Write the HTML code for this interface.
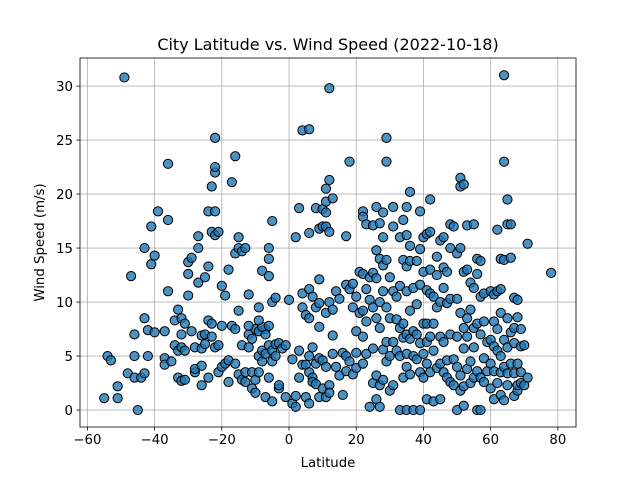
<!DOCTYPE html>
<html><head><meta charset="utf-8"><style>
body{margin:0;background:#fff;}
svg text{font-family:"DejaVu Sans","Liberation Sans",sans-serif;fill:#000;}
</style></head><body>
<svg id="chart" width="640" height="480" viewBox="0 0 640 480" xmlns="http://www.w3.org/2000/svg">
<rect width="640" height="480" fill="#fff"/>
<text x="328" y="50" font-size="16" text-anchor="middle">City Latitude vs. Wind Speed (2022-10-18)</text>
<text x="328" y="467" font-size="13.3" text-anchor="middle">Latitude</text>
<text x="0" y="0" font-size="13.3" text-anchor="middle" transform="translate(44,242.5) rotate(-90)">Wind Speed (m/s)</text>
<g id="grid"></g><g id="pts"></g><g id="axes"></g>
</svg>
<script>
const xTicks=[-60,-40,-20,0,20,40,60,80];
const yTicks=[0,5,10,15,20,25,30];
const lats=[-55,-54,-53,-51,-51,-49,-48,-47,-46,-46,-46,-45,-44,-43,-43,-43,-42,-42,-41,-41,-40,-40,-39,-37,-37,-37,-36,-36,-36,-35,-34,-34,-33,-33,-33,-32,-32,-32,-32,-31,-31,-31,-30,-30,-30,-29,-29,-28,-28,-28,-27,-27,-27,-26,-26,-26,-26,-25,-25,-25,-24,-24,-24,-24,-23,-23,-23,-23,-22,-22,-22,-22,-22,-22,-21,-21,-21,-20,-20,-20,-19,-19,-18,-18,-18,-17,-17,-16,-16,-16,-16,-15,-15,-15,-15,-14,-14,-14,-13,-13,-13,-12,-12,-12,-11,-11,-11,-10,-10,-10,-9,-9,-9,-9,-8,-8,-8,-7,-7,-7,-6,-6,-6,-6,-6,-5,-5,-5,-5,-5,-4,-4,-4,-3,-3,-3,-2,-1,-1,-7,-8,-6,-9,-12,
0,1,1,2,2,2,3,3,3,4,4,4,4,5,5,5,6,6,6,6,6,6,6,7,7,7,7,8,8,8,8,9,9,9,9,9,9,10,10,10,10,11,11,11,11,11,11,11,12,12,12,12,12,12,13,13,13,13,14,14,15,15,16,16,17,17,17,17,18,18,18,19,19,19,20,20,20,20,21,21,22,22,22,22,22,22,23,23,23,23,24,24,24,25,25,25,25,25,26,26,26,26,26,26,27,27,27,27,27,27,28,28,28,28,28,28,29,29,29,29,29,29,30,30,30,30,31,31,31,31,31,32,32,32,33,33,33,33,33,34,34,34,34,34,35,35,35,35,35,35,35,35,36,36,36,36,36,36,37,37,37,37,38,38,38,38,39,39,39,39,39,39,
40,40,40,40,40,41,41,41,41,41,41,42,42,42,42,42,42,43,43,43,43,44,44,44,44,45,45,45,45,45,46,46,46,46,46,47,47,47,47,48,48,48,48,48,49,49,49,50,50,50,50,50,51,51,51,51,51,51,52,52,52,52,52,52,53,53,53,53,53,54,54,54,54,55,55,55,55,55,56,56,56,56,56,57,57,57,57,57,58,58,58,58,59,59,60,60,60,60,61,61,61,61,61,62,62,62,62,62,63,63,63,63,63,63,64,64,64,64,64,64,65,65,65,65,65,65,66,66,66,66,67,67,67,67,67,68,68,68,68,68,69,69,69,69,70,70,71,71,78];
const winds=[1.1,5,4.6,2.2,1.1,30.8,3.4,12.4,7,5,3,0,3,3.4,8.5,15,7.4,5,13.5,17,14.3,7.2,18.4,7.3,4.8,4.2,22.8,17.6,11,4.5,8.3,6,9.3,5.5,3,8.5,7,5.8,2.7,8,5.5,2.8,12.6,10.6,13.7,14.1,7.3,5.8,3.5,3.8,15,16.1,11.8,6.9,5.7,2.3,4.1,12.3,7,6.1,18.4,13.3,8.3,3,20.7,16.5,6.8,8,22,22.5,25.2,18.4,16.2,5.8,16.5,6,3.5,4,11.5,7.8,10.6,4.3,13,4.6,2.6,21.1,7.8,23.5,14.5,7.5,4.3,16,15,9.2,3.3,14.7,6,2.8,15,3.5,2.6,5.8,10.7,7,6.6,3.5,2,7.5,2.8,1.6,9.5,7.3,5,3.5,12.9,4.5,5.5,7.5,5.2,1.2,15,14,12.4,6,3,17.5,10,5.5,4.5,0.8,10.4,6.1,5,6.2,2,2.3,5.7,6,1.2,7,7.7,7.8,8.3,7.8,
10.2,4.7,0.6,16,1.3,0.3,18.7,5.5,3,25.9,10.8,9.5,4.2,8.8,4.2,1.2,26,16.4,11.2,8.5,5,3.5,0.6,10.5,5.8,3,2.6,18.7,9.5,4.3,2.4,16.8,12.1,9.9,7.7,4.8,1.2,18.6,17,4.6,2,20.5,19.3,18.3,17,9,4,1.2,29.8,21.3,16.5,10,2.3,1.6,19.6,9.3,6.9,5.2,11,4,10.3,3.2,5.3,1.4,16.1,11.6,5,3.6,23,11.2,4.5,11.7,9.5,3.3,10.5,7.3,5.3,3.9,9,12.8,18.4,17.9,12.6,9.2,6.8,4.3,17.2,11.2,8.2,5.2,12.3,10.2,0.3,17.1,12.7,9.5,5.7,2.5,18.8,14.8,12.2,8.5,3.2,1,17.3,14,10,7.6,2.3,0.3,18.3,16,13.4,11,5.6,2.8,23,25.2,13.9,9.5,6.3,4.5,12.3,8.5,5,1.8,18.8,17,11,6.3,2.3,10.5,8.4,5.5,16,11.5,7.6,5,0,17.6,13.9,8,6.7,3,18.8,16.2,13.3,11,7,5.2,4,0,20.2,15.2,13.8,9.2,6.6,3.3,11.3,7.3,5,0,13.8,9.8,7,4.7,18.4,14.9,11.6,6.2,3.5,0,
16,12.8,8,5.2,3,16.3,11.1,8,6.3,4.3,1,19.5,16.5,13,10.8,6.8,3.5,10.5,8,5.5,0.8,14.2,12.5,9.5,3.9,15.7,10,6.8,4.3,1,16,13.2,11.3,6.3,3.5,12.8,9.9,4.6,3,17.2,15,10.3,7,2.6,17,4.7,2.3,14.5,10.3,6.8,4,0,21.5,20.7,15,9,3.2,1.8,20.9,12.8,7.6,5.7,2.2,0.4,17.1,13,8.5,6.8,3.8,11.8,9.3,4.5,2.5,17.2,11.3,7.6,5.8,3,14,12.6,8,3.6,0,13.8,10.5,7,3,0,10.8,8.2,4.8,2.6,6.3,3.6,11,6.5,4.3,2,10.7,8.2,5.9,3.6,1,16.7,11,7.5,5.5,2.5,14,11.2,9,5,3.5,1.4,31,23,13.9,6.5,4,0.9,19.5,17.2,8.5,5.8,3.4,2.3,17.2,14.1,7.2,4.3,10.4,7.6,6.2,3.4,1.3,10.2,8.6,4.3,1.8,2.3,7.5,5.9,3.5,2.5,6,2.3,15.4,3,12.7];
const L=80,R=576,T=58,B=427,xmin=-62.2,xmax=85.4,ymin=-1.57,ymax=32.6;
const sx=v=>L+(v-xmin)/(xmax-xmin)*(R-L);
const sy=v=>B-(v-ymin)/(ymax-ymin)*(B-T);
const NS="http://www.w3.org/2000/svg";
const grid=document.getElementById('grid'),pts=document.getElementById('pts'),axes=document.getElementById('axes');
function mk(tag,attrs,parent){const e=document.createElementNS(NS,tag);for(const k in attrs)e.setAttribute(k,attrs[k]);parent.appendChild(e);return e;}
xTicks.forEach(t=>{const x=sx(t);
 const g=mk('line',{x1:x,x2:x,y1:T,y2:B,stroke:'#b0b0b0','stroke-width':0.8},grid);
 
 
 const tk=mk('line',{x1:x,x2:x,y1:B,y2:B+3.5,stroke:'#000','stroke-width':0.8},axes);
 
 
 const tx=mk('text',{x:x,y:B+17,'font-size':13.3,'text-anchor':'middle'},axes);tx.textContent=(t<0?'\u2212'+(-t):t);
 
 
});
yTicks.forEach(t=>{const y=sy(t);
 const g=mk('line',{x1:L,x2:R,y1:y,y2:y,stroke:'#b0b0b0','stroke-width':0.8},grid);
 
 
 const tk=mk('line',{x1:L-3.5,x2:L,y1:y,y2:y,stroke:'#000','stroke-width':0.8},axes);
 
 
 const tx=mk('text',{x:L-7,y:y+5,'font-size':13.3,'text-anchor':'end'},axes);tx.textContent=t;
 
 
});
lats.forEach((la,i)=>{
 const c=mk('circle',{cx:sx(la),cy:sy(winds[i]),r:4.6,fill:'#1f77b4','fill-opacity':0.8,stroke:'#000','stroke-width':1},pts);
 
 
});
const fr=mk('rect',{x:L,y:T,width:R-L,height:B-T,fill:'none',stroke:'#000','stroke-width':0.8},axes);


</script>
</body></html>
